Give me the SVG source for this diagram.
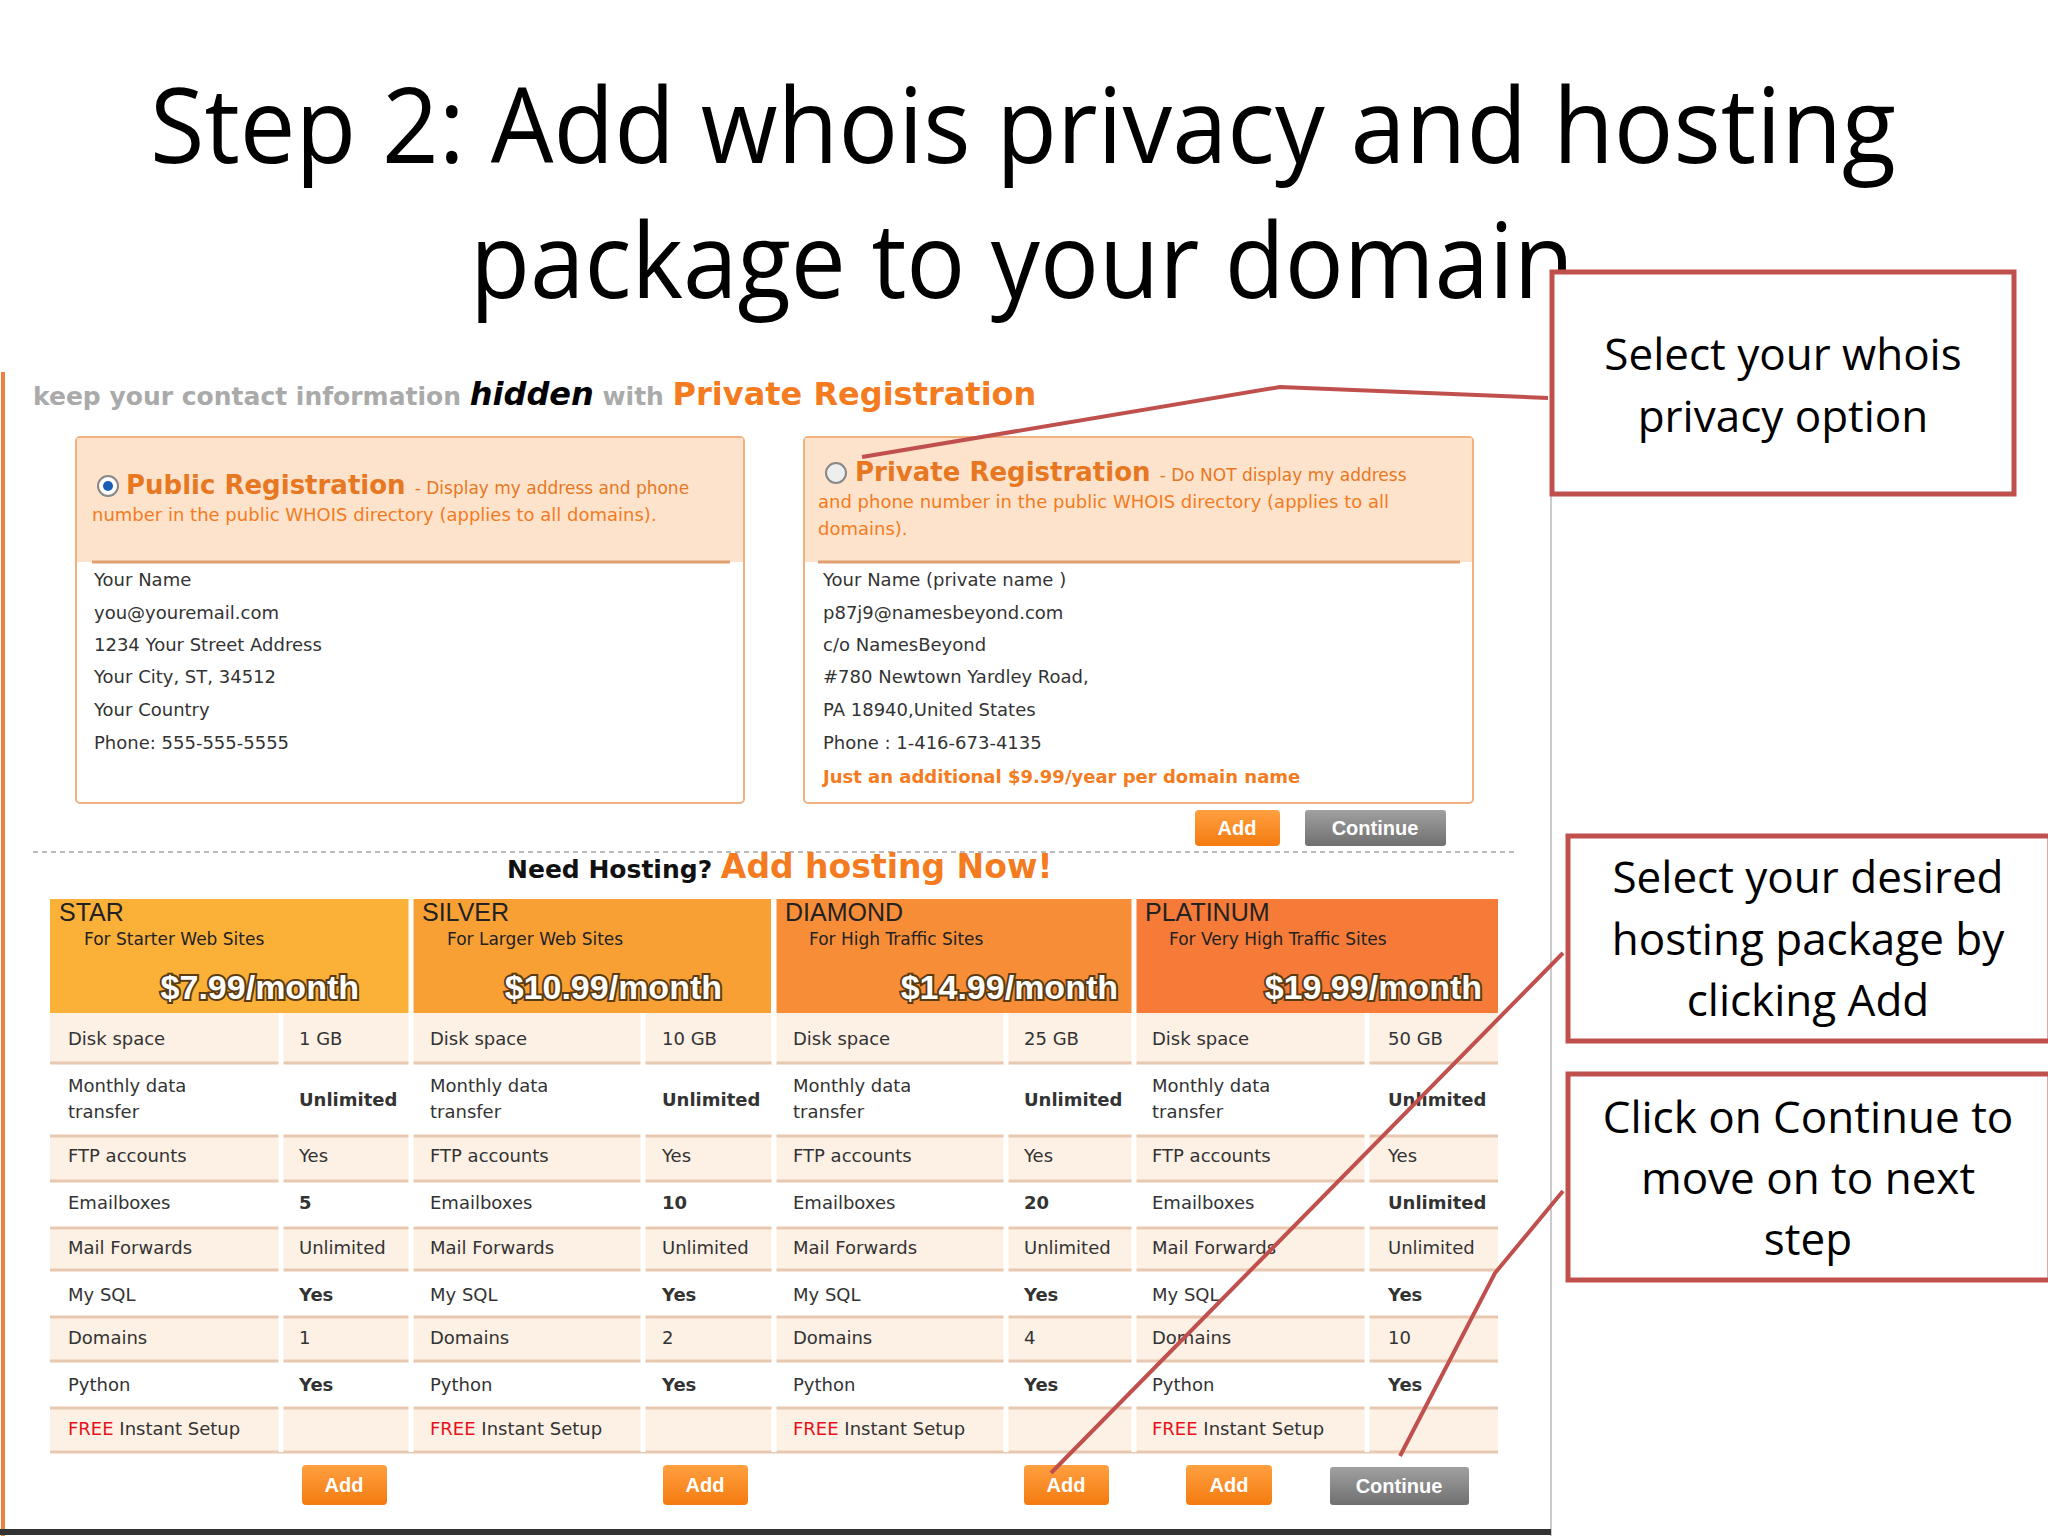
<svg xmlns="http://www.w3.org/2000/svg" width="2048" height="1536" viewBox="0 0 2048 1536">
<defs>
<style>
.t{font-family:"DejaVu Sans",Verdana,sans-serif;font-size:18px;fill:#333}
.b{font-weight:bold}
.o{fill:#f47b20}
.hd{font-family:"Liberation Sans",Arial,sans-serif;font-size:25px;fill:#222}
.sub{font-family:"DejaVu Sans",sans-serif;font-size:17px;fill:#222}
.price{font-family:"Liberation Sans",Arial,sans-serif;font-size:34px;fill:#fff;stroke:#5a3a10;stroke-width:4;paint-order:stroke;font-weight:bold}
.call{fill:#fff;stroke:#c0504d;stroke-width:5}
.ct{font-family:"Open Sans","DejaVu Sans",sans-serif;font-size:44px;fill:#000;text-anchor:middle}
.btn{font-family:"Liberation Sans",Arial,sans-serif;font-size:20px;font-weight:bold;fill:#fff;text-anchor:middle}
.pk{fill:#fdf0e4}
</style>
<linearGradient id="ob" x1="0" y1="0" x2="0" y2="1"><stop offset="0" stop-color="#ffa040"/><stop offset="1" stop-color="#f47b10"/></linearGradient>
<linearGradient id="gb" x1="0" y1="0" x2="0" y2="1"><stop offset="0" stop-color="#a0a0a0"/><stop offset="1" stop-color="#707070"/></linearGradient>
</defs>
<rect width="2048" height="1536" fill="#fff"/>
<g id="title" font-family="'Open Sans','DejaVu Sans',sans-serif" font-size="104" fill="#000">
<text x="150" y="163" textLength="1746" lengthAdjust="spacingAndGlyphs">Step 2: Add whois privacy and hosting</text>
<text x="470" y="298" textLength="1104" lengthAdjust="spacingAndGlyphs">package to your domain</text>
</g>
<g id="screenshot">
<rect x="0" y="372" width="1551" height="1164" fill="#fff"/>
<line x1="3" y1="372" x2="3" y2="1536" stroke="#f08040" stroke-width="4"/>
<line x1="1551" y1="372" x2="1551" y2="1536" stroke="#ccc" stroke-width="2"/>
<line x1="0" y1="1532" x2="1551" y2="1532" stroke="#333" stroke-width="6"/>
<text x="33" y="405" font-family="'DejaVu Sans',sans-serif" font-size="25" font-weight="bold" fill="#aaa">keep your contact information <tspan fill="#000" font-style="italic" font-size="32">hidden</tspan> with <tspan fill="#f47b20" font-size="32">Private Registration</tspan></text>
</g>
<g id="public">
<rect x="76" y="437" width="668" height="366" rx="4" fill="#fff" stroke="#f0b080" stroke-width="2"/>
<rect x="77" y="438" width="666" height="124" fill="#fde3cc"/>
<line x1="92" y1="562" x2="730" y2="562" stroke="#e0a070" stroke-width="3"/>
<circle cx="108" cy="486" r="10" fill="#fff" stroke="#888" stroke-width="2"/><circle cx="108" cy="486" r="5" fill="#1a5fb4"/>
<text x="126" y="494" font-family="'DejaVu Sans',sans-serif" font-size="26" font-weight="bold" fill="#e87722">Public Registration <tspan font-size="17" font-weight="normal">- Display my address and phone</tspan></text>
<text x="92" y="521" class="t o" font-size="17">number in the public WHOIS directory (applies to all domains).</text>
<text class="t" font-size="18"><tspan x="94" y="586">Your Name</tspan><tspan x="94" y="619">you@youremail.com</tspan><tspan x="94" y="651">1234 Your Street Address</tspan><tspan x="94" y="683">Your City, ST, 34512</tspan><tspan x="94" y="716">Your Country</tspan><tspan x="94" y="749">Phone: 555-555-5555</tspan></text>
</g>
<g id="private">
<rect x="804" y="437" width="669" height="366" rx="4" fill="#fff" stroke="#f0b080" stroke-width="2"/>
<rect x="805" y="438" width="667" height="124" fill="#fde3cc"/>
<line x1="818" y1="562" x2="1460" y2="562" stroke="#e0a070" stroke-width="3"/>
<circle cx="836" cy="473" r="10" fill="#eee" stroke="#888" stroke-width="2"/>
<text x="855" y="481" font-family="'DejaVu Sans',sans-serif" font-size="26" font-weight="bold" fill="#e87722">Private Registration <tspan font-size="17" font-weight="normal">- Do NOT display my address</tspan></text>
<text x="818" y="508" class="t o" font-size="17">and phone number in the public WHOIS directory (applies to all</text>
<text x="818" y="535" class="t o" font-size="17">domains).</text>
<text class="t" font-size="18"><tspan x="823" y="586">Your Name (private name )</tspan><tspan x="823" y="619">p87j9@namesbeyond.com</tspan><tspan x="823" y="651">c/o NamesBeyond</tspan><tspan x="823" y="683">#780 Newtown Yardley Road,</tspan><tspan x="823" y="716">PA 18940,United States</tspan><tspan x="823" y="749">Phone : 1-416-673-4135</tspan></text>
<text x="823" y="783" class="t b o" font-size="17">Just an additional $9.99/year per domain name</text>
</g>
<g id="btn-add-private"><rect x="1195" y="810" width="85" height="36" rx="4" fill="url(#ob)"/><text x="1237" y="835" class="btn">Add</text></g>
<g id="btn-continue-private"><rect x="1305" y="810" width="141" height="36" rx="3" fill="url(#gb)"/><text x="1375" y="835" class="btn">Continue</text></g>
<line x1="33" y1="852" x2="1515" y2="852" stroke="#bbb" stroke-width="2" stroke-dasharray="5,4"/>
<text x="507" y="878" font-family="'DejaVu Sans',sans-serif" font-size="25" font-weight="bold" fill="#111">Need Hosting? <tspan fill="#f47b20" font-size="33">Add hosting Now!</tspan></text>
<g id="table">
<rect x="50" y="899" width="359" height="114" fill="#fbb038"/>
<rect x="413" y="899" width="358" height="114" fill="#f9a035"/>
<rect x="776" y="899" width="356" height="114" fill="#f88d38"/>
<rect x="1136" y="899" width="362" height="114" fill="#f67b38"/>
<g class="hd"><text x="59" y="921">STAR</text><text x="422" y="921">SILVER</text><text x="785" y="921">DIAMOND</text><text x="1145" y="921">PLATINUM</text></g>
<g class="sub"><text x="84" y="945">For Starter Web Sites</text><text x="447" y="945">For Larger Web Sites</text><text x="809" y="945">For High Traffic Sites</text><text x="1169" y="945">For Very High Traffic Sites</text></g>
<g class="price" text-anchor="end"><text x="359" y="999">$7.99/month</text><text x="722" y="999">$10.99/month</text><text x="1118" y="999">$14.99/month</text><text x="1482" y="999">$19.99/month</text></g>
<g class="pk">
<rect x="50" y="1013" width="1448" height="50"/><rect x="50" y="1136" width="1448" height="45"/><rect x="50" y="1228" width="1448" height="42"/><rect x="50" y="1317" width="1448" height="44"/><rect x="50" y="1408" width="1448" height="44"/>
</g>
<g stroke="#e8c8b0" stroke-width="3">
<line x1="50" y1="1063" x2="1498" y2="1063"/><line x1="50" y1="1136" x2="1498" y2="1136"/><line x1="50" y1="1181" x2="1498" y2="1181"/><line x1="50" y1="1228" x2="1498" y2="1228"/><line x1="50" y1="1270" x2="1498" y2="1270"/><line x1="50" y1="1317" x2="1498" y2="1317"/><line x1="50" y1="1361" x2="1498" y2="1361"/><line x1="50" y1="1408" x2="1498" y2="1408"/><line x1="50" y1="1452" x2="1498" y2="1452"/>
</g>
<g stroke="#fff" stroke-width="5">
<line x1="281" y1="1013" x2="281" y2="1452"/><line x1="411" y1="899" x2="411" y2="1452"/><line x1="643" y1="1013" x2="643" y2="1452"/><line x1="774" y1="899" x2="774" y2="1452"/><line x1="1006" y1="1013" x2="1006" y2="1452"/><line x1="1134" y1="899" x2="1134" y2="1452"/><line x1="1367" y1="1013" x2="1367" y2="1452"/>
</g>
<g class="t">
<g id="c1"><text x="68" y="1045">Disk space</text><text x="68" y="1092">Monthly data</text><text x="68" y="1118">transfer</text><text x="68" y="1162">FTP accounts</text><text x="68" y="1209">Emailboxes</text><text x="68" y="1254">Mail Forwards</text><text x="68" y="1301">My SQL</text><text x="68" y="1344">Domains</text><text x="68" y="1391">Python</text><text x="68" y="1435"><tspan fill="#e8101a">FREE</tspan> Instant Setup</text>
<text x="299" y="1045">1 GB</text><text x="299" y="1106" class="b">Unlimited</text><text x="299" y="1162">Yes</text><text x="299" y="1209" class="b">5</text><text x="299" y="1254">Unlimited</text><text x="299" y="1301" class="b">Yes</text><text x="299" y="1344">1</text><text x="299" y="1391" class="b">Yes</text></g>
<g id="c2"><text x="430" y="1045">Disk space</text><text x="430" y="1092">Monthly data</text><text x="430" y="1118">transfer</text><text x="430" y="1162">FTP accounts</text><text x="430" y="1209">Emailboxes</text><text x="430" y="1254">Mail Forwards</text><text x="430" y="1301">My SQL</text><text x="430" y="1344">Domains</text><text x="430" y="1391">Python</text><text x="430" y="1435"><tspan fill="#e8101a">FREE</tspan> Instant Setup</text>
<text x="662" y="1045">10 GB</text><text x="662" y="1106" class="b">Unlimited</text><text x="662" y="1162">Yes</text><text x="662" y="1209" class="b">10</text><text x="662" y="1254">Unlimited</text><text x="662" y="1301" class="b">Yes</text><text x="662" y="1344">2</text><text x="662" y="1391" class="b">Yes</text></g>
<g id="c3"><text x="793" y="1045">Disk space</text><text x="793" y="1092">Monthly data</text><text x="793" y="1118">transfer</text><text x="793" y="1162">FTP accounts</text><text x="793" y="1209">Emailboxes</text><text x="793" y="1254">Mail Forwards</text><text x="793" y="1301">My SQL</text><text x="793" y="1344">Domains</text><text x="793" y="1391">Python</text><text x="793" y="1435"><tspan fill="#e8101a">FREE</tspan> Instant Setup</text>
<text x="1024" y="1045">25 GB</text><text x="1024" y="1106" class="b">Unlimited</text><text x="1024" y="1162">Yes</text><text x="1024" y="1209" class="b">20</text><text x="1024" y="1254">Unlimited</text><text x="1024" y="1301" class="b">Yes</text><text x="1024" y="1344">4</text><text x="1024" y="1391" class="b">Yes</text></g>
<g id="c4"><text x="1152" y="1045">Disk space</text><text x="1152" y="1092">Monthly data</text><text x="1152" y="1118">transfer</text><text x="1152" y="1162">FTP accounts</text><text x="1152" y="1209">Emailboxes</text><text x="1152" y="1254">Mail Forwards</text><text x="1152" y="1301">My SQL</text><text x="1152" y="1344">Domains</text><text x="1152" y="1391">Python</text><text x="1152" y="1435"><tspan fill="#e8101a">FREE</tspan> Instant Setup</text>
<text x="1388" y="1045">50 GB</text><text x="1388" y="1106" class="b">Unlimited</text><text x="1388" y="1162">Yes</text><text x="1388" y="1209" class="b">Unlimited</text><text x="1388" y="1254">Unlimited</text><text x="1388" y="1301" class="b">Yes</text><text x="1388" y="1344">10</text><text x="1388" y="1391" class="b">Yes</text></g>
</g>
</g>
<g id="btn-add-1"><rect x="302" y="1465" width="85" height="40" rx="4" fill="url(#ob)"/><text x="344" y="1492" class="btn">Add</text></g>
<g id="btn-add-2"><rect x="663" y="1465" width="85" height="40" rx="4" fill="url(#ob)"/><text x="705" y="1492" class="btn">Add</text></g>
<g id="btn-add-3"><rect x="1024" y="1465" width="85" height="40" rx="4" fill="url(#ob)"/><text x="1066" y="1492" class="btn">Add</text></g>
<g id="btn-add-4"><rect x="1186" y="1465" width="86" height="40" rx="4" fill="url(#ob)"/><text x="1229" y="1492" class="btn">Add</text></g>
<g id="btn-continue"><rect x="1330" y="1467" width="139" height="38" rx="3" fill="url(#gb)"/><text x="1399" y="1493" class="btn">Continue</text></g>
<g id="callout1"><rect x="1552" y="272" width="462" height="222" class="call"/><text class="ct"><tspan x="1783" y="370">Select your whois</tspan><tspan x="1783" y="432">privacy option</tspan></text></g>
<g id="callout2"><rect x="1568" y="836" width="482" height="205" class="call"/><text class="ct"><tspan x="1808" y="893">Select your desired</tspan><tspan x="1808" y="955">hosting package by</tspan><tspan x="1808" y="1016">clicking Add</tspan></text></g>
<g id="callout3"><rect x="1568" y="1074" width="482" height="206" class="call"/><text class="ct"><tspan x="1808" y="1133">Click on Continue to</tspan><tspan x="1808" y="1194">move on to next</tspan><tspan x="1808" y="1255">step</tspan></text></g>
<g id="connectors" fill="none" stroke="#c0504d" stroke-width="4">
<polyline points="1548,398 1280,387 862,457"/>
<polyline points="1563,953 1051,1473"/>
<polyline points="1563,1191 1495,1273 1400,1456"/>
</g>
</svg>
